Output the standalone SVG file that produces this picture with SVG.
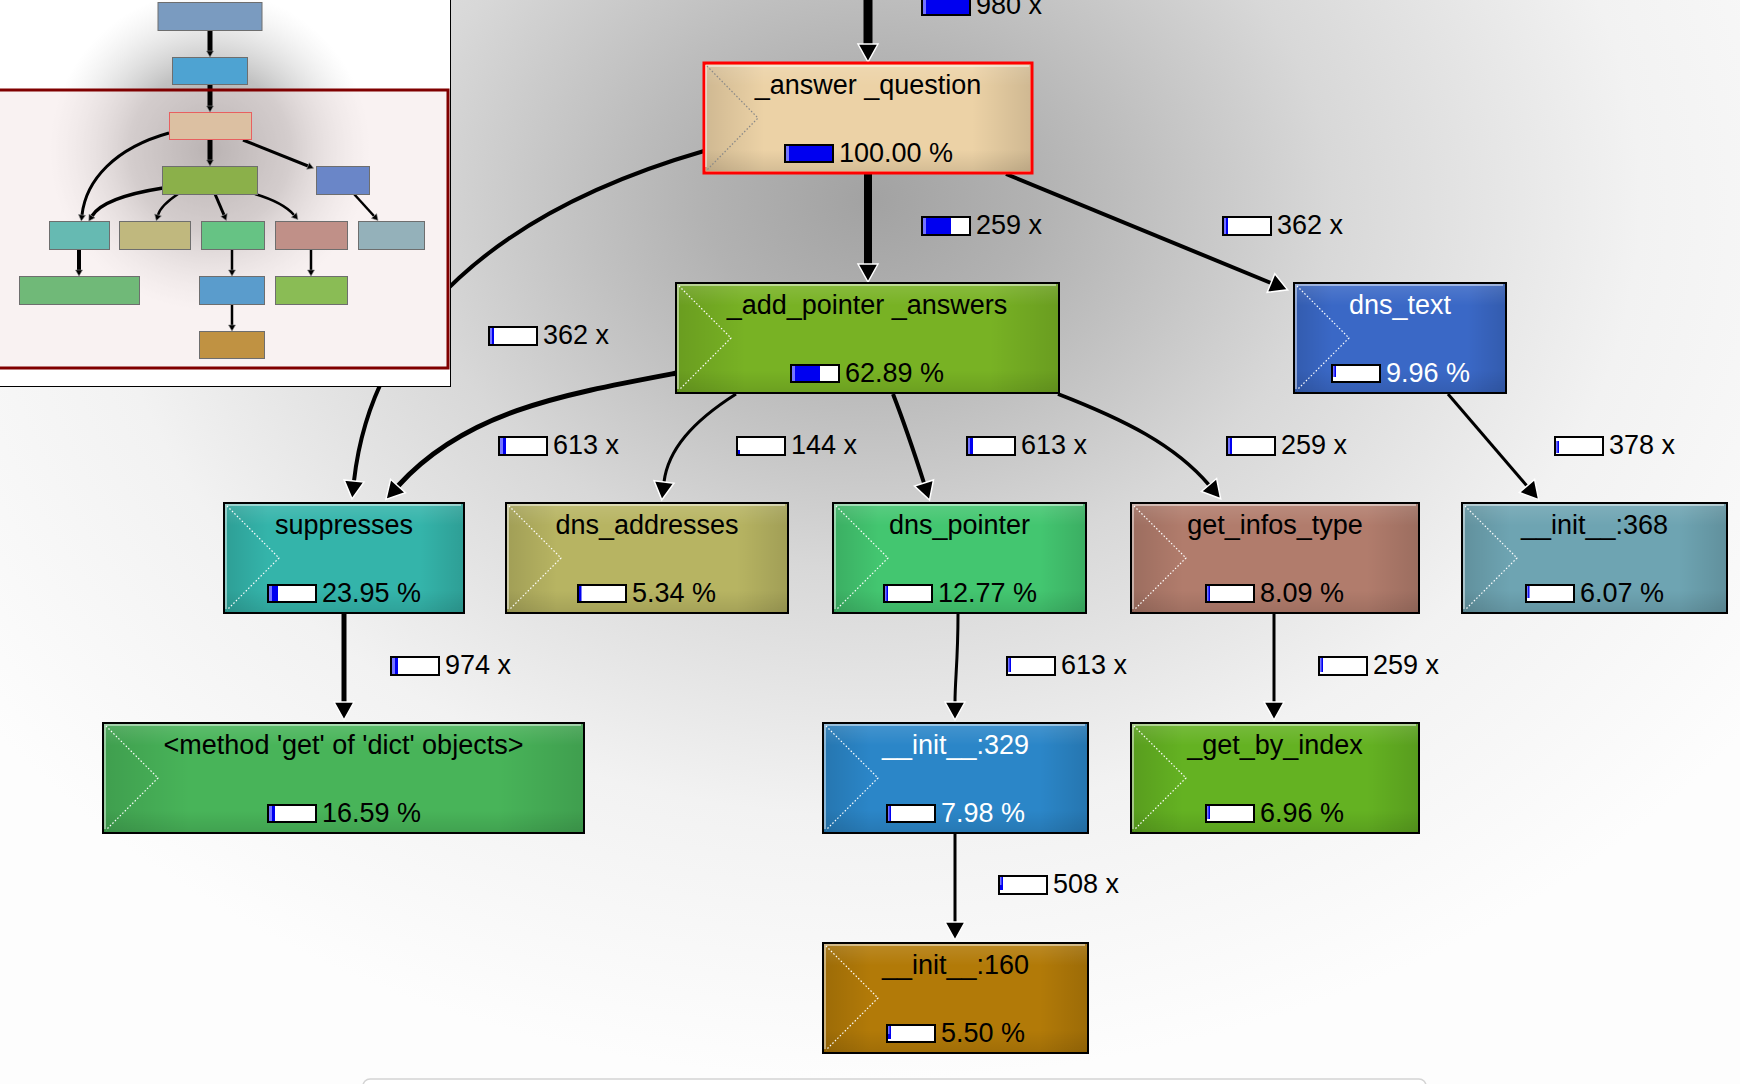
<svg xmlns="http://www.w3.org/2000/svg" width="1740" height="1084" viewBox="0 0 1740 1084">
<defs>
  <radialGradient id="bg" gradientUnits="userSpaceOnUse" cx="870" cy="200" r="1100" gradientTransform="translate(870 200) scale(1 0.8) translate(-870 -200)">
    <stop offset="0" stop-color="#a2a2a2"/>
    <stop offset="0.15" stop-color="#b2b2b2"/>
    <stop offset="0.42" stop-color="#d8d8d8"/>
    <stop offset="0.7" stop-color="#f2f2f2"/>
    <stop offset="1" stop-color="#fdfdfd"/>
  </radialGradient>
  <radialGradient id="mmsh" gradientUnits="userSpaceOnUse" cx="210" cy="150" r="160">
    <stop offset="0" stop-color="#8a8a8a" stop-opacity="0.9"/>
    <stop offset="0.5" stop-color="#a0a0a0" stop-opacity="0.65"/>
    <stop offset="1" stop-color="#d0d0d0" stop-opacity="0"/>
  </radialGradient>
  <linearGradient id="shadeH" x1="0" y1="0" x2="1" y2="0">
    <stop offset="0" stop-color="#000" stop-opacity="0.12"/>
    <stop offset="0.18" stop-color="#000" stop-opacity="0"/>
    <stop offset="0.82" stop-color="#000" stop-opacity="0"/>
    <stop offset="1" stop-color="#000" stop-opacity="0.12"/>
  </linearGradient>
  <linearGradient id="shadeV" x1="0" y1="0" x2="0" y2="1">
    <stop offset="0" stop-color="#fff" stop-opacity="0.12"/>
    <stop offset="0.2" stop-color="#fff" stop-opacity="0"/>
    <stop offset="0.8" stop-color="#000" stop-opacity="0"/>
    <stop offset="1" stop-color="#000" stop-opacity="0.1"/>
  </linearGradient>
  <marker id="arrow" markerUnits="userSpaceOnUse" viewBox="-2 -12 24 24" markerWidth="24" markerHeight="24" refX="0" refY="0" orient="auto" overflow="visible">
    <path d="M0,-10 L18,0 L0,10 Z" fill="#000" stroke="#fff" stroke-width="1.5" stroke-linejoin="miter"/>
  </marker>
  <marker id="marrow" markerUnits="userSpaceOnUse" viewBox="-1 -5 8 10" markerWidth="8" markerHeight="10" refX="0" refY="0" orient="auto" overflow="visible">
    <path d="M0,-3.5 L6,0 L0,3.5 Z" fill="#000" stroke="#888" stroke-width="0.6"/>
  </marker>
</defs>
<style>
  .nt { font-family: "Liberation Sans", Arial, Helvetica, sans-serif; font-size: 27px; text-anchor: middle; fill: #000; }
  .pt { font-family: "Liberation Sans", Arial, Helvetica, sans-serif; font-size: 27px; fill: #000; }
  .lt { font-family: "Liberation Sans", Arial, Helvetica, sans-serif; font-size: 27px; fill: #000; }
  .w { fill: #fff; }
  .box { stroke: #000; stroke-width: 2; }
  .sh { fill: url(#shadeH); stroke: none; }
  .sv { fill: url(#shadeV); stroke: none; }
  .hi { fill: none; stroke: #fff; stroke-opacity: 0.45; stroke-width: 2; }
  .chev { fill: none; stroke: #fff; stroke-width: 1.2; stroke-dasharray: 1.5 2; }
  .chevg { fill: none; stroke: #888; stroke-width: 1.2; stroke-dasharray: 1.5 2; }
  .edge { fill: none; stroke: #000; marker-end: url(#arrow); }
  .bar { fill: #fff; stroke: #000; stroke-width: 2; }
  .bf { fill: #0000f0; }
  .bh { fill: #7474ff; }
  .mn { stroke: #6e6e6e; stroke-width: 1; }
  .me { fill: none; stroke: #000; marker-end: url(#marrow); }
</style>

<rect x="0" y="0" width="1740" height="1084" fill="url(#bg)"/>

<g id="connectors">
  <path class="edge" stroke-width="9" d="M868,-5 L868,44"/>
  <path class="edge" stroke-width="8" d="M868,174 L868,264"/>
  <path class="edge" stroke-width="4" d="M1006,174 L1271,283"/>
  <path class="edge" stroke-width="4" d="M704,151 C 500,210 372,320 354,481"/>
  <path class="edge" stroke-width="5" d="M677,373 C 560,395 465,412 398,486"/>
  <path class="edge" stroke-width="3" d="M736,394 C 692,422 668,450 664,482"/>
  <path class="edge" stroke-width="4" d="M893,394 C 905,425 915,455 924,483"/>
  <path class="edge" stroke-width="3.5" d="M1058,394 C 1125,420 1175,445 1209,485"/>
  <path class="edge" stroke-width="3" d="M1448,394 L1527,486"/>
  <path class="edge" stroke-width="5" d="M344,614 L344,702"/>
  <path class="edge" stroke-width="3" d="M958,614 C 958,660 955,680 955,702"/>
  <path class="edge" stroke-width="3" d="M1274,614 L1274,702"/>
  <path class="edge" stroke-width="3" d="M955,834 L955,922"/>

  <g id="edge-labels">
    <g><rect class="bar" x="922" y="-3" width="48" height="18"/><rect class="bf" x="923" y="-2" width="46" height="16"/><rect class="bh" x="923" y="-2" width="3" height="16"/><text class="lt" x="976" y="14">980 x</text></g>
    <g><rect class="bar" x="922" y="217" width="48" height="18"/><rect class="bf" x="923" y="218" width="28" height="16"/><rect class="bh" x="923" y="218" width="3" height="16"/><text class="lt" x="976" y="234">259 x</text></g>
    <g><rect class="bar" x="1223" y="217" width="48" height="18"/><rect class="bf" x="1224" y="218" width="4" height="16"/><rect class="bh" x="1224" y="218" width="2" height="16"/><text class="lt" x="1277" y="234">362 x</text></g>
    <g><rect class="bar" x="489" y="327" width="48" height="18"/><rect class="bf" x="490" y="328" width="4" height="16"/><rect class="bh" x="490" y="328" width="2" height="16"/><text class="lt" x="543" y="344">362 x</text></g>
    <g><rect class="bar" x="499" y="437" width="48" height="18"/><rect class="bf" x="500" y="438" width="6" height="16"/><rect class="bh" x="500" y="438" width="3" height="16"/><text class="lt" x="553" y="454">613 x</text></g>
    <g><rect class="bar" x="737" y="437" width="48" height="18"/><rect class="bf" x="738" y="450" width="2" height="4"/><text class="lt" x="791" y="454">144 x</text></g>
    <g><rect class="bar" x="967" y="437" width="48" height="18"/><rect class="bf" x="968" y="438" width="5" height="16"/><rect class="bh" x="968" y="438" width="2" height="16"/><text class="lt" x="1021" y="454">613 x</text></g>
    <g><rect class="bar" x="1227" y="437" width="48" height="18"/><rect class="bf" x="1228" y="438" width="4" height="16"/><rect class="bh" x="1228" y="438" width="2" height="16"/><text class="lt" x="1281" y="454">259 x</text></g>
    <g><rect class="bar" x="1555" y="437" width="48" height="18"/><rect class="bf" x="1556" y="441" width="3" height="12"/><rect class="bh" x="1556" y="441" width="1.5" height="12"/><text class="lt" x="1609" y="454">378 x</text></g>
    <g><rect class="bar" x="391" y="657" width="48" height="18"/><rect class="bf" x="392" y="658" width="6" height="16"/><rect class="bh" x="392" y="658" width="3" height="16"/><text class="lt" x="445" y="674">974 x</text></g>
    <g><rect class="bar" x="1007" y="657" width="48" height="18"/><rect class="bf" x="1008" y="658" width="3" height="14"/><rect class="bh" x="1008" y="658" width="1.5" height="14"/><text class="lt" x="1061" y="674">613 x</text></g>
    <g><rect class="bar" x="1319" y="657" width="48" height="18"/><rect class="bf" x="1320" y="658" width="3" height="14"/><rect class="bh" x="1320" y="658" width="1.5" height="14"/><text class="lt" x="1373" y="674">259 x</text></g>
    <g><rect class="bar" x="999" y="876" width="48" height="18"/><rect class="bf" x="1000" y="877" width="3" height="13"/><rect class="bh" x="1000" y="877" width="1.5" height="8"/><text class="lt" x="1053" y="893">508 x</text></g>
  </g>
</g>

<g id="node-answer-question">
  <rect x="704" y="63" width="328" height="110" fill="#ecd2a6" stroke="#ff0000" stroke-width="3"/>
  <rect class="sh" x="706" y="65" width="324" height="106"/>
  <rect class="sv" x="706" y="65" width="324" height="106"/>
  <path class="hi" d="M706,167 V66 H1029"/>
  <polyline class="chevg" points="707,66 758,118 707,170"/>
  <text class="nt" x="868" y="94">_answer _question</text>
  <rect class="bar" x="785" y="145" width="48" height="17"/><rect class="bf" x="786" y="146" width="46" height="15"/><rect class="bh" x="786" y="146" width="3" height="15"/>
  <text class="pt" x="839" y="162">100.00 %</text>
</g>

<g id="node-add-pointer-answers">
  <rect class="box" x="676" y="283" width="383" height="110" fill="#78b224"/>
  <rect class="sh" x="677" y="284" width="381" height="108"/>
  <rect class="sv" x="677" y="284" width="381" height="108"/>
  <path class="hi" d="M678,389 V285 H1056"/>
  <polyline class="chev" points="679,286 731,338 679,390"/>
  <text class="nt" x="867" y="314">_add_pointer _answers</text>
  <rect class="bar" x="791" y="365" width="48" height="17"/><rect class="bf" x="792" y="366" width="28" height="15"/><rect class="bh" x="792" y="366" width="3" height="15"/>
  <text class="pt" x="845" y="382">62.89 %</text>
</g>

<g id="node-dns-text">
  <rect class="box" x="1294" y="283" width="212" height="110" fill="#3a68c6"/>
  <rect class="sh" x="1295" y="284" width="210" height="108"/>
  <rect class="sv" x="1295" y="284" width="210" height="108"/>
  <path class="hi" d="M1296,389 V285 H1503"/>
  <polyline class="chev" points="1297,286 1349,338 1297,390"/>
  <text class="nt w" x="1400" y="314">dns_text</text>
  <rect class="bar" x="1332" y="365" width="48" height="17"/><rect class="bf" x="1333" y="366" width="3" height="11"/><rect class="bh" x="1333" y="366" width="1.5" height="11"/>
  <text class="pt w" x="1386" y="382">9.96 %</text>
</g>

<g id="node-suppresses">
  <rect class="box" x="224" y="503" width="240" height="110" fill="#34b4aa"/>
  <rect class="sh" x="225" y="504" width="238" height="108"/>
  <rect class="sv" x="225" y="504" width="238" height="108"/>
  <path class="hi" d="M226,609 V505 H461"/>
  <polyline class="chev" points="227,506 279,558 227,610"/>
  <text class="nt" x="344" y="534">suppresses</text>
  <rect class="bar" x="268" y="585" width="48" height="17"/><rect class="bf" x="269" y="586" width="9" height="15"/><rect class="bh" x="269" y="586" width="3" height="15"/>
  <text class="pt" x="322" y="602">23.95 %</text>
</g>

<g id="node-dns-addresses">
  <rect class="box" x="506" y="503" width="282" height="110" fill="#b7b462"/>
  <rect class="sh" x="507" y="504" width="280" height="108"/>
  <rect class="sv" x="507" y="504" width="280" height="108"/>
  <path class="hi" d="M508,609 V505 H785"/>
  <polyline class="chev" points="509,506 561,558 509,610"/>
  <text class="nt" x="647" y="534">dns_addresses</text>
  <rect class="bar" x="578" y="585" width="48" height="17"/><rect class="bf" x="579" y="586" width="2.5" height="15"/>
  <text class="pt" x="632" y="602">5.34 %</text>
</g>

<g id="node-dns-pointer">
  <rect class="box" x="833" y="503" width="253" height="110" fill="#43c670"/>
  <rect class="sh" x="834" y="504" width="251" height="108"/>
  <rect class="sv" x="834" y="504" width="251" height="108"/>
  <path class="hi" d="M835,609 V505 H1083"/>
  <polyline class="chev" points="836,506 888,558 836,610"/>
  <text class="nt" x="959.5" y="534">dns_pointer</text>
  <rect class="bar" x="884" y="585" width="48" height="17"/><rect class="bf" x="885" y="586" width="3" height="15"/><rect class="bh" x="885" y="586" width="1.5" height="15"/>
  <text class="pt" x="938" y="602">12.77 %</text>
</g>

<g id="node-get-infos-type">
  <rect class="box" x="1131" y="503" width="288" height="110" fill="#b17c6c"/>
  <rect class="sh" x="1132" y="504" width="286" height="108"/>
  <rect class="sv" x="1132" y="504" width="286" height="108"/>
  <path class="hi" d="M1133,609 V505 H1416"/>
  <polyline class="chev" points="1134,506 1186,558 1134,610"/>
  <text class="nt" x="1275" y="534">get_infos_type</text>
  <rect class="bar" x="1206" y="585" width="48" height="17"/><rect class="bf" x="1207" y="586" width="3" height="15"/><rect class="bh" x="1207" y="586" width="1.5" height="15"/>
  <text class="pt" x="1260" y="602">8.09 %</text>
</g>

<g id="node-init-368">
  <rect class="box" x="1462" y="503" width="265" height="110" fill="#6ea4b2"/>
  <rect class="sh" x="1463" y="504" width="263" height="108"/>
  <rect class="sv" x="1463" y="504" width="263" height="108"/>
  <path class="hi" d="M1464,609 V505 H1724"/>
  <polyline class="chev" points="1465,506 1517,558 1465,610"/>
  <text class="nt" x="1594.5" y="534">__init__:368</text>
  <rect class="bar" x="1526" y="585" width="48" height="17"/><rect class="bf" x="1527" y="586" width="2.5" height="12"/><rect class="bh" x="1527" y="586" width="1.2" height="12"/>
  <text class="pt" x="1580" y="602">6.07 %</text>
</g>

<g id="node-method-get">
  <rect class="box" x="103" y="723" width="481" height="110" fill="#48b459"/>
  <rect class="sh" x="104" y="724" width="479" height="108"/>
  <rect class="sv" x="104" y="724" width="479" height="108"/>
  <path class="hi" d="M105,829 V725 H581"/>
  <polyline class="chev" points="106,726 158,778 106,830"/>
  <text class="nt" x="343.5" y="754">&lt;method 'get' of 'dict' objects&gt;</text>
  <rect class="bar" x="268" y="805" width="48" height="17"/><rect class="bf" x="269" y="806" width="6" height="15"/><rect class="bh" x="269" y="806" width="3" height="15"/>
  <text class="pt" x="322" y="822">16.59 %</text>
</g>

<g id="node-init-329">
  <rect class="box" x="823" y="723" width="265" height="110" fill="#2b86c8"/>
  <rect class="sh" x="824" y="724" width="263" height="108"/>
  <rect class="sv" x="824" y="724" width="263" height="108"/>
  <path class="hi" d="M825,829 V725 H1085"/>
  <polyline class="chev" points="826,726 878,778 826,830"/>
  <text class="nt w" x="955.5" y="754">__init__:329</text>
  <rect class="bar" x="887" y="805" width="48" height="17"/><rect class="bf" x="888" y="806" width="3" height="15"/><rect class="bh" x="888" y="806" width="1.5" height="15"/>
  <text class="pt w" x="941" y="822">7.98 %</text>
</g>

<g id="node-get-by-index">
  <rect class="box" x="1131" y="723" width="288" height="110" fill="#64b222"/>
  <rect class="sh" x="1132" y="724" width="286" height="108"/>
  <rect class="sv" x="1132" y="724" width="286" height="108"/>
  <path class="hi" d="M1133,829 V725 H1416"/>
  <polyline class="chev" points="1134,726 1186,778 1134,830"/>
  <text class="nt" x="1275" y="754">_get_by_index</text>
  <rect class="bar" x="1206" y="805" width="48" height="17"/><rect class="bf" x="1207" y="806" width="3" height="13"/><rect class="bh" x="1207" y="806" width="1.5" height="13"/>
  <text class="pt" x="1260" y="822">6.96 %</text>
</g>

<g id="node-init-160">
  <rect class="box" x="823" y="943" width="265" height="110" fill="#b27a08"/>
  <rect class="sh" x="824" y="944" width="263" height="108"/>
  <rect class="sv" x="824" y="944" width="263" height="108"/>
  <path class="hi" d="M825,1049 V945 H1085"/>
  <polyline class="chev" points="826,946 878,998 826,1050"/>
  <text class="nt" x="955.5" y="974">__init__:160</text>
  <rect class="bar" x="887" y="1025" width="48" height="17"/><rect class="bf" x="888" y="1026" width="3" height="13"/><rect class="bh" x="888" y="1026" width="1.5" height="8"/>
  <text class="pt" x="941" y="1042">5.50 %</text>
</g>

<g id="minimap">
  <rect x="-2" y="-2" width="452.5" height="388.5" fill="#fff" stroke="#000" stroke-width="1"/>
  <circle cx="210" cy="150" r="160" fill="url(#mmsh)"/>
  <rect x="-2" y="90" width="450" height="278" fill="#f0dede" fill-opacity="0.4"/>
  <g id="minimap-connectors">
    <path class="me" stroke-width="5" d="M210,28 L210,51"/>
    <path class="me" stroke-width="5" d="M210,84 L210,106"/>
    <path class="me" stroke-width="5" d="M210,139 L210,160"/>
    <path class="me" stroke-width="3" d="M243,140 L308,166"/>
    <path class="me" stroke-width="3" d="M169,133 C 115,148 86,180 82,215"/>
    <path class="me" stroke-width="3.5" d="M163,188 C 125,194 100,203 92,216"/>
    <path class="me" stroke-width="2.5" d="M178,194 C 166,202 160,208 158,215"/>
    <path class="me" stroke-width="3" d="M215,194 L224,215"/>
    <path class="me" stroke-width="2.5" d="M255,194 C 275,200 288,208 294,215"/>
    <path class="me" stroke-width="2.5" d="M354,194 L374,216"/>
    <path class="me" stroke-width="4" d="M79,249 L79,270"/>
    <path class="me" stroke-width="2.5" d="M232,249 L232,270"/>
    <path class="me" stroke-width="2.5" d="M311,249 L311,270"/>
    <path class="me" stroke-width="2.5" d="M232,304 L232,325"/>
  </g>
  <rect class="mn" x="158" y="2.5" width="104" height="28" fill="#7a9bc0"/>
  <rect class="mn" x="172.5" y="57.5" width="75" height="27" fill="#4ea3d2"/>
  <rect x="169.5" y="112.5" width="82" height="27" fill="#dcc0a2" stroke="#e86060" stroke-width="1"/>
  <rect class="mn" x="162.5" y="166.5" width="95" height="28" fill="#8bb04a"/>
  <rect class="mn" x="316.5" y="166.5" width="53" height="28" fill="#6a86c8"/>
  <rect class="mn" x="49.5" y="221.5" width="60" height="28" fill="#66bab2"/>
  <rect class="mn" x="119.5" y="221.5" width="71" height="28" fill="#c0b87e"/>
  <rect class="mn" x="201.5" y="221.5" width="63" height="28" fill="#66c384"/>
  <rect class="mn" x="275.5" y="221.5" width="72" height="28" fill="#c09088"/>
  <rect class="mn" x="358.5" y="221.5" width="66" height="28" fill="#94b1ba"/>
  <rect class="mn" x="19.5" y="276.5" width="120" height="28" fill="#70b978"/>
  <rect class="mn" x="199.5" y="276.5" width="65" height="28" fill="#5a9ccc"/>
  <rect class="mn" x="275.5" y="276.5" width="72" height="28" fill="#8abc55"/>
  <rect class="mn" x="199.5" y="331.5" width="65" height="27" fill="#c09242"/>
  <rect x="-2" y="90" width="450" height="278" fill="none" stroke="#800000" stroke-width="3"/>
</g>

<rect x="363" y="1079" width="1063" height="24" rx="7" fill="#fff" stroke="#d4d4d4" stroke-width="1.5"/>
</svg>
